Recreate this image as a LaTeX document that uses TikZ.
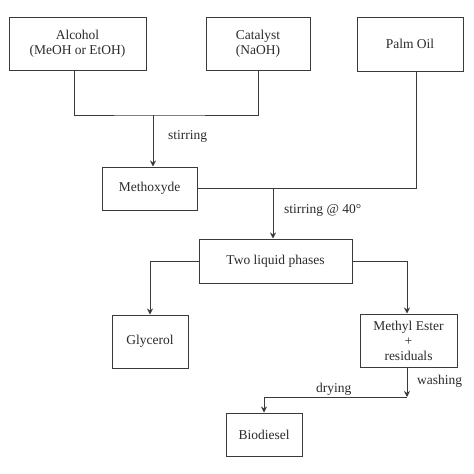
\documentclass[tikz,border=0pt]{standalone}
\usepackage{fontspec}
\setmainfont{Liberation Serif}
\usetikzlibrary{arrows.meta,calc}
\definecolor{ln}{HTML}{3A3A3A}
\definecolor{tx}{HTML}{2A2A2A}
\begin{document}
\begin{tikzpicture}[x=1pt,y=-1pt,
  box/.style={draw=ln,line width=1pt,align=center,inner sep=0pt,text=tx,font=\fontsize{13.5}{15}\selectfont},
  arr/.style={draw=ln,line width=1pt,-{Stealth[length=6pt,width=6pt]}},
  con/.style={draw=ln,line width=1pt},
  lbl/.style={text=tx,font=\fontsize{13.5}{15}\selectfont,inner sep=0pt}]
\useasboundingbox (0,0) rectangle (474,474);
\node[box,minimum width=137pt,minimum height=53pt] (alc) at (77.5,43.5) {Alcohol\\(MeOH or EtOH)};
\node[box,minimum width=104pt,minimum height=53pt] (cat) at (258,43.5) {Catalyst\\(NaOH)};
\node[box,minimum width=106pt,minimum height=54pt] (palm) at (410,44) {Palm Oil};
\node[box,minimum width=95pt,minimum height=43pt] (meth) at (149.5,188.5) {Methoxyde};
\node[box,minimum width=153pt,minimum height=44pt] (two) at (275.5,261) {Two liquid phases};
\node[box,minimum width=76pt,minimum height=53pt] (gly) at (150,341.5) {Glycerol};
\node[box,minimum width=97pt,minimum height=53pt] (me) at (408.5,340.5) {Methyl Ester\\+\\residuals};
\node[box,minimum width=76pt,minimum height=43pt] (bio) at (264,434.5) {Biodiesel};
\coordinate (j1) at (153,115);
\coordinate (j2) at (273,188);
\coordinate (j3) at (407,397);
\draw[con] ([xshift=-3.5pt]alc.south) |- (j1) -| (cat.south);
\draw[arr] (j1) -- (meth.north -| j1);
\draw[con] ([xshift=6pt]palm.south) |- (meth.east);
\draw[arr] (j2) -- (two.north -| j2);
\draw[arr] (two.west) -| (gly.north);
\draw[arr] (two.east) -| ([xshift=-1.5pt]me.north);
\draw[arr] ([xshift=-1.5pt]me.south) -- (j3);
\draw[arr] (j3) -| (bio.north);
\node[lbl,anchor=west] (l1) at (168,136) {stirring};
\node[lbl,anchor=west] (l2) at (284,210) {stirring @ 40°};
\node[lbl,anchor=west] (l3) at (417,381) {washing};
\node[lbl,anchor=west] (l4) at (316,389) {drying};
\end{tikzpicture}
\end{document}
